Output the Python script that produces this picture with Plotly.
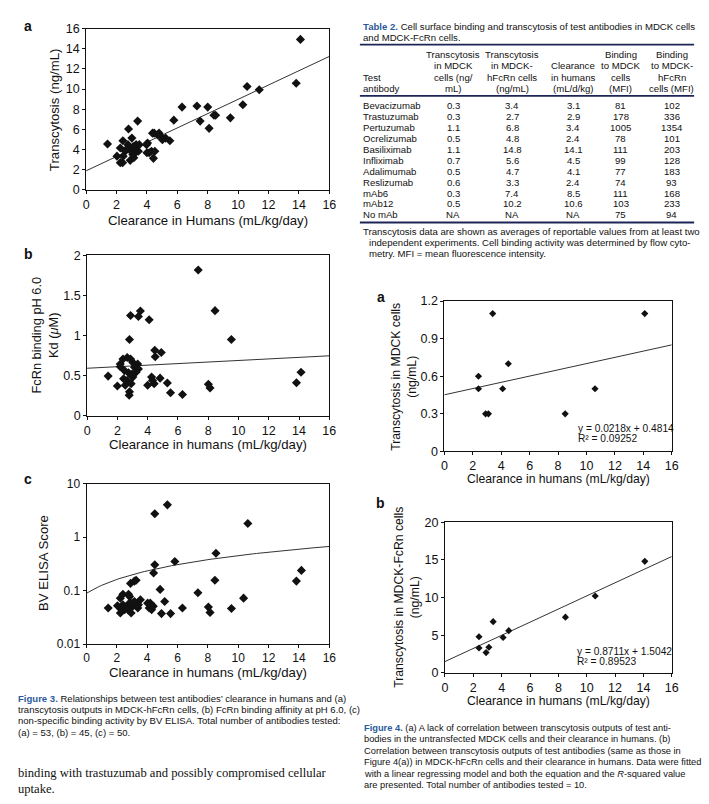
import numpy as np
import plotly.graph_objects as go

W, H = 709, 804

# ---------------- data ----------------
# Figure 3a: clearance vs transcytosis in MDCK-hFcRn (53 antibodies)
f3a_x = [1.41, 2.03, 2.25, 2.42, 2.25, 2.40, 2.44, 2.79, 2.90, 3.01, 2.85, 2.96, 3.07, 3.18, 3.29,
         3.39, 3.24, 3.44, 3.50, 2.64, 2.75, 3.14, 4.04, 4.15, 4.37, 4.43, 4.52, 4.48, 4.80, 4.91,
         5.02, 5.23, 5.51, 5.77, 6.31, 7.29, 7.50, 8.00, 8.09, 8.41, 8.52, 9.49, 10.31, 10.59,
         11.39, 13.82, 14.10, 4.00, 4.30, 3.98, 4.70, 2.57, 3.10]
f3a_y = [4.54, 3.34, 4.15, 4.87, 2.69, 2.69, 3.34, 6.04, 2.92, 5.13, 4.15, 3.83, 3.50, 4.15, 4.48,
         6.82, 3.67, 3.83, 4.48, 3.99, 4.48, 3.18, 4.64, 3.67, 5.62, 3.12, 3.83, 5.62, 5.62, 5.29,
         4.97, 5.13, 4.87, 6.91, 8.21, 8.31, 6.82, 8.21, 6.10, 7.40, 7.40, 7.14, 8.44, 10.26,
         9.93, 10.58, 14.93, 3.67, 3.83, 4.48, 5.45, 3.83, 4.30]
f3a_fit = (1.88, 0.71)  # intercept, slope

# Figure 3b: clearance vs FcRn Kd (45 antibodies)
f3b_x = [1.39, 2.00, 2.19, 2.19, 2.37, 2.41, 2.52, 2.65, 2.74, 2.80, 2.80, 2.78, 2.87, 2.87, 2.91,
         3.02, 3.02, 3.13, 3.23, 3.34, 3.39, 3.52, 3.39, 4.10, 4.00, 4.26, 4.43, 4.47, 4.50, 4.90,
         4.82, 5.30, 5.51, 6.30, 7.34, 8.01, 8.12, 8.45, 9.53, 13.83, 14.13, 4.32, 2.47, 2.97, 2.65]
f3b_y = [0.494, 0.371, 0.645, 0.612, 0.706, 0.461, 0.380, 0.441, 0.535, 0.951, 0.298, 0.257, 1.249,
         0.706, 0.400, 0.665, 0.482, 0.604, 0.543, 0.645, 1.237, 1.306, 0.584, 1.196, 0.380, 0.482,
         0.400, 0.816, 0.735, 0.788, 0.469, 0.408, 0.286, 0.265, 1.816, 0.392, 0.347, 1.310, 0.951,
         0.412, 0.543, 0.441, 0.563, 0.520, 0.727]
f3b_fit = (0.592, 0.0097)

# Figure 3c: clearance vs BV ELISA score (50 antibodies)
f3c_x = [1.43, 2.04, 2.23, 2.40, 2.23, 2.51, 2.77, 2.84, 2.90, 2.94, 3.05, 3.16, 3.27, 3.20, 3.38,
         3.55, 2.62, 2.73, 3.01, 4.13, 4.20, 4.29, 4.42, 4.50, 4.50, 4.85, 4.94, 5.15, 5.33, 5.54,
         5.82, 6.32, 7.34, 8.03, 8.14, 8.53, 8.46, 9.55, 10.35, 10.63, 13.83, 14.16, 4.03, 4.40,
         2.40, 2.84, 3.16, 2.29, 3.42, 2.73]
f3c_y = [0.047, 0.052, 0.072, 0.085, 0.038, 0.044, 0.085, 0.077, 0.136, 0.038, 0.051, 0.150, 0.156,
         0.058, 0.047, 0.067, 0.047, 0.054, 0.058, 0.047, 0.058, 0.044, 0.213, 2.73, 0.303, 0.105,
         0.037, 0.0625, 4.00, 0.037, 0.349, 0.047, 0.091, 0.049, 0.039, 0.497, 0.156, 0.046, 0.072,
         1.79, 0.150, 0.238, 0.058, 0.051, 0.054, 0.058, 0.062, 0.044, 0.054, 0.044]
f3c_fit = (0.089, 0.0361)

# Table 2 / Figure 4 data
antibodies = ["Bevacizumab", "Trastuzumab", "Pertuzumab", "Ocrelizumab", "Basiliximab",
              "Infliximab", "Adalimumab", "Reslizumab", "mAb6", "mAb12", "No mAb"]
tc_mdck = ["0.3", "0.3", "1.1", "0.5", "1.1", "0.7", "0.5", "0.6", "0.3", "0.5", "NA"]
tc_fcrn = ["3.4", "2.7", "6.8", "4.8", "14.8", "5.6", "4.7", "3.3", "7.4", "10.2", "NA"]
clearance = ["3.1", "2.9", "3.4", "2.4", "14.1", "4.5", "4.1", "2.4", "8.5", "10.6", "NA"]
bind_mdck = ["81", "178", "1005", "78", "111", "99", "77", "74", "111", "103", "75"]
bind_fcrn = ["102", "336", "1354", "101", "203", "128", "183", "93", "168", "233", "94"]

f4_x = [float(v) for v in clearance[:10]]
f4a_y = [float(v) for v in tc_mdck[:10]]
f4b_y = [float(v) for v in tc_fcrn[:10]]
f4a_fit = (0.452, 0.0249)
f4b_fit = (1.5042, 0.8711)

x_ticks = [0, 2, 4, 6, 8, 10, 12, 14, 16]

# ---------------- helpers ----------------
def px(x):
    return x / W

def py(y):
    return 1 - y / H

SANS = "Liberation Sans, Arial, sans-serif"
NARROW = "Liberation Sans, Arial, sans-serif"
SERIF = "Liberation Serif, Times New Roman, serif"
BLUE = "#2b5a9b"
NAVY = "#1c2556"

fig = go.Figure()

def axis(domain, rng, tickvals, ticktext=None, typ="linear", anchor="x", tsize=12.5):
    d = dict(domain=domain, range=rng, showline=True, linecolor="#111", linewidth=1, mirror=True,
             ticks="outside", ticklen=3, tickcolor="#111", showgrid=False, zeroline=False,
             tickfont=dict(family=SANS, size=tsize, color="#111"), tickvals=tickvals,
             type=typ, anchor=anchor, fixedrange=True)
    if ticktext is not None:
        d["ticktext"] = ticktext
    return d

panels = [
    ("1", (84.3, 331), (22, 186), [0, 16], [0, 2, 4, 6, 8, 10, 12, 14, 16], None, "linear", 12.5),
    ("2", (85.3, 331), (252.7, 416), [0, 2], [0, 0.5, 1, 1.5, 2], ["0", "0.5", "1", "1.5", "2"], "linear", 12.5),
    ("3", (84.7, 331), (485, 648.3), [-2, 1], [0.01, 0.1, 1, 10], ["0.01", "0.1", "1", "10"], "log", 12),
    ("4", (447.7, 678.3), (299.3, 452.3), [0, 1.2], [0, 0.3, 0.6, 0.9, 1.2], ["0", "0.3", "0.6", "0.9", "1.2"], "linear", 12.5),
    ("5", (448.3, 678.3), (524.3, 677.7), [0, 20], [0, 5, 10, 15, 20], None, "linear", 12.5),
]

lay = {}
for name, xd, yd, yr, ytv, ytt, typ, ts in panels:
    xk = "xaxis" if name == "1" else "xaxis" + name
    yk = "yaxis" if name == "1" else "yaxis" + name
    xref = "x" if name == "1" else "x" + name
    yref = "y" if name == "1" else "y" + name
    lay[xk] = axis([px(xd[0]), px(xd[1])], [0, 16], x_ticks, anchor=yref, tsize=ts)
    lay[yk] = axis([py(yd[1]), py(yd[0])], yr, ytv, ytt, typ, anchor=xref, tsize=ts)

def scatter(xs, ys, name, size):
    xa = "x" if name == "1" else "x" + name
    ya = "y" if name == "1" else "y" + name
    fig.add_trace(go.Scatter(x=xs, y=ys, mode="markers", xaxis=xa, yaxis=ya,
                             marker=dict(symbol="diamond", size=size, color="#111",
                                         line=dict(width=0)),
                             showlegend=False, hoverinfo="skip"))

def fitline(fit, name, n=2):
    xa = "x" if name == "1" else "x" + name
    ya = "y" if name == "1" else "y" + name
    xs = np.linspace(0, 16, n)
    ys = fit[0] + fit[1] * xs
    fig.add_trace(go.Scatter(x=xs, y=ys, mode="lines", xaxis=xa, yaxis=ya,
                             line=dict(color="#333", width=1), showlegend=False,
                             hoverinfo="skip", cliponaxis=True))

fitline(f3a_fit, "1"); scatter(f3a_x, f3a_y, "1", 7)
fitline(f3b_fit, "2"); scatter(f3b_x, f3b_y, "2", 7)
fitline(f3c_fit, "3", 81); scatter(f3c_x, f3c_y, "3", 7)
fitline(f4a_fit, "4"); scatter(f4_x, f4a_y, "4", 5.5)
fitline(f4b_fit, "5"); scatter(f4_x, f4b_y, "5", 5.5)

ann = []

def text(x, y, s, size=12, family=SANS, xanchor="center", yanchor="middle", angle=0,
         color="#111", align="center"):
    ann.append(dict(x=px(x), y=py(y), xref="paper", yref="paper", text=s, showarrow=False,
                    xanchor=xanchor, yanchor=yanchor, textangle=angle, align=align,
                    font=dict(size=size, family=family, color=color)))

# panel letters
for (x, y, s) in [(25, 19, "a"), (26, 251.7, "b"), (25, 480, "c"), (383.3, 295, "a"), (383.3, 505, "b")]:
    text(x, y, "<b>" + s + "</b>", size=14)

# axis titles
text(208, 217.5, "Clearance in Humans (mL/kg/day)", 13.2)
text(51.7, 104, "Transcytosis (ng/mL)", 13.2, angle=-90)
text(208, 445, "Clearance in humans (mL/kg/day)", 13.2)
text(43, 334, "FcRn binding pH 6.0<br>Kd (<i>μ</i>M)", 12.8, angle=-90)
text(208, 677, "Clearance in humans (mL/kg/day)", 13.2)
text(40.5, 566, "BV ELISA Score", 13.2, angle=-90)
text(563, 480, "Clearance in humans (mL/kg/day)", 12.2)
text(407, 376, "Transcytosis in MDCK cells<br>(ng/mL)", 12.2, angle=-90)
text(563, 706, "Clearance in humans (mL/kg/day)", 12.2)
text(409, 601, "Transcytosis in MDCK-FcRn cells<br>(ng/mL)", 12.2, angle=-90)

# equations
text(581.7, 429, "y = 0.0218x + 0.4814", 10.2, xanchor="left")
text(581.7, 439.3, "R² = 0.09252", 10.2, xanchor="left")
text(580, 655.7, "y = 0.8711x + 1.5042", 10.2, xanchor="left")
text(580, 665.7, "R² = 0.89523", 10.2, xanchor="left")

# ---------------- Table 2 ----------------
TS = 9.6
text(363, 20, "<b><span style='color:%s'>Table 2.</span></b> Cell surface binding and transcytosis of test antibodies in MDCK cells" % BLUE,
     TS, NARROW, xanchor="left")
text(363, 31.5, "and MDCK-FcRn cells.", TS, NARROW, xanchor="left")

col_x = [362.7, 456.7, 516.7, 578.3, 626.7, 678.3]
headers = [
    ["", "", "Test", "antibody"],
    ["Transcytosis", "in MDCK", "cells (ng/", "mL)"],
    ["Transcytosis", "in MDCK-", "hFcRn cells", "(ng/mL)"],
    ["", "Clearance", "in humans", "(mL/d/kg)"],
    ["Binding", "to MDCK", "cells", "(MFI)"],
    ["Binding", "to MDCK-", "hFcRn", "cells (MFI)"],
]
head_y = [48.3, 59.8, 71.5, 83.3]
for ci, lines in enumerate(headers):
    for li, s in enumerate(lines):
        if s:
            text(col_x[ci], head_y[li], s, TS, NARROW, xanchor="left" if ci == 0 else "center")

cols = [antibodies, tc_mdck, tc_fcrn, clearance, bind_mdck, bind_fcrn]
for ri in range(len(antibodies)):
    yy = 100.5 + ri * 11.1
    for ci, col in enumerate(cols):
        text(col_x[ci], yy, col[ri], TS, NARROW, xanchor="left" if ci == 0 else "center")

shapes = []
for yy, wdt in [(38.3, 1.8), (90.5, 1.8), (219.3, 1.8)]:
    shapes.append(dict(type="line", xref="paper", yref="paper", x0=px(362), x1=px(701),
                       y0=py(yy), y1=py(yy), line=dict(color=NAVY, width=wdt)))

text(363, 228.5, "Transcytosis data are shown as averages of reportable values from at least two", TS, NARROW, xanchor="left")
text(369, 239.5, "independent experiments. Cell binding activity was determined by flow cyto-", TS, NARROW, xanchor="left")
text(369, 250.5, "metry. MFI = mean fluorescence intensity.", TS, NARROW, xanchor="left")

# ---------------- captions ----------------
cap3 = [
    "<b><span style='color:%s'>Figure 3.</span></b> Relationships between test antibodies’ clearance in humans and (a)" % BLUE,
    "transcytosis outputs in MDCK-hFcRn cells, (b) FcRn binding affinity at pH 6.0, (c)",
    "non-specific binding activity by BV ELISA. Total number of antibodies tested:",
    "(a) = 53, (b) = 45, (c) = 50.",
]
for i, s in enumerate(cap3):
    text(12.7, 704 + i * 11.3, s, 9.55, NARROW, xanchor="left")

text(12.7, 780, "binding with trastuzumab and possibly compromised cellular", 12.6, SERIF, xanchor="left")
text(12.7, 796, "uptake.", 12.6, SERIF, xanchor="left")

cap4 = [
    "<b><span style='color:%s'>Figure 4.</span></b> (a) A lack of correlation between transcytosis outputs of test anti-" % BLUE,
    "bodies in the untransfected MDCK cells and their clearance in humans. (b)",
    "Correlation between transcytosis outputs of test antibodies (same as those in",
    "Figure 4(a)) in MDCK-hFcRn cells and their clearance in humans. Data were fitted",
    "with a linear regressing model and both the equation and the <i>R</i>-squared value",
    "are presented. Total number of antibodies tested = 10.",
]
for i, s in enumerate(cap4):
    text(364, 733.3 + i * 11.7, s, 9.3, NARROW, xanchor="left")

fig.update_layout(width=W, height=H, autosize=False, margin=dict(l=0, r=0, t=0, b=0),
                  paper_bgcolor="white", plot_bgcolor="white", annotations=ann, shapes=shapes,
                  **lay)

fig.write_html("out.html", config={"displayModeBar": False},
               post_script="document.body.style.margin='0';document.body.style.overflow='hidden';")
